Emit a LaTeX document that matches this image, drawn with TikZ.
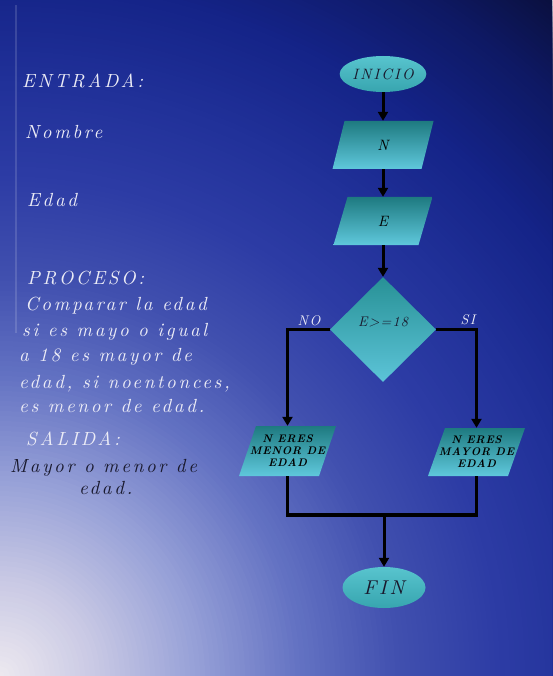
\documentclass[tikz,border=0pt]{standalone}
\usepackage{fontspec}
\setmainfont{lmroman10}[Extension=.otf, UprightFont=*-regular, ItalicFont=*-italic, BoldFont=*-bold, BoldItalicFont=*-bolditalic]
\usetikzlibrary{shapes.geometric,arrows.meta}
\definecolor{bg0}{RGB}{238,234,240}
\definecolor{bg1}{RGB}{200,200,228}
\definecolor{bg2}{RGB}{150,160,215}
\definecolor{bg3}{RGB}{100,115,195}
\definecolor{bg4}{RGB}{65,80,175}
\definecolor{bg5}{RGB}{45,60,165}
\definecolor{bg6}{RGB}{32,48,152}
\definecolor{bg7}{RGB}{20,35,135}
\definecolor{bg8}{RGB}{14,25,100}
\definecolor{bg9}{RGB}{10,15,60}
\definecolor{ellT}{RGB}{88,196,206}
\definecolor{ellB}{RGB}{55,165,175}
\definecolor{parT}{RGB}{30,122,128}
\definecolor{parB}{RGB}{95,200,220}
\definecolor{diaT}{RGB}{40,145,150}
\definecolor{diaB}{RGB}{92,196,216}
\definecolor{txtW}{RGB}{236,236,246}
\definecolor{txtD}{RGB}{25,25,45}
\tikzset{
  paraslant/.store in=\paraslantval, paraslant=12,
  arr/.style={line width=3pt, black, -{Triangle[width=10pt,length=9pt]}},
  joinline/.style={line width=3.5pt, black},
  terminal/.style={ellipse, draw=none, top color=ellT, bottom color=ellB, inner sep=0pt,
    text=txtD, font=\fontsize{15}{15}\selectfont\itshape\addfontfeatures{LetterSpace=14}},
  iobox/.style={rectangle, draw=none, inner sep=0pt, text=black, align=center,
    path picture={\shade[top color=parT, bottom color=parB]
      ([xshift=\paraslantval pt]path picture bounding box.north west) --
      (path picture bounding box.north east) --
      ([xshift=-\paraslantval pt]path picture bounding box.south east) --
      (path picture bounding box.south west) -- cycle;}},
  decision/.style={diamond, draw=none, top color=diaT, bottom color=diaB, inner sep=0pt,
    minimum width=106pt, minimum height=105pt},
  side/.style={anchor=base west, inner sep=0pt, text=txtW,
    font=\fontsize{19}{19}\selectfont\itshape\addfontfeatures{LetterSpace=14}},
  branch/.style={inner sep=0pt, text=txtW, font=\fontsize{14}{14}\selectfont\itshape\addfontfeatures{LetterSpace=10}},
  smalltxt/.style={font=\fontsize{11}{12}\selectfont\bfseries\itshape\addfontfeatures{LetterSpace=6}}
}
\begin{document}
\begin{tikzpicture}[x=1pt,y=-1pt]
\useasboundingbox (0,0) rectangle (552,676);
\begin{scope}
  \clip (0,0) rectangle (552,676);
  \fill[bg9] (0,0) rectangle (552,676);
  \foreach \ca/\cb/\ra/\rb in {bg8/bg9/800/880, bg7/bg8/700/800, bg6/bg7/600/700, bg5/bg6/500/600, bg4/bg5/400/500, bg3/bg4/300/400, bg2/bg3/200/300, bg1/bg2/100/200, bg0/bg1/0/100}{
    \foreach \k in {20,19,...,1}{
      \pgfmathsetmacro\rr{\ra+(\rb-\ra)*\k/20}
      \pgfmathtruncatemacro\pp{\k*5}
      \fill[fill=\cb!\pp!\ca] (0,676) circle (\rr pt);
    }
  }
\end{scope}
\draw[line width=1.5pt, color=white, opacity=0.14] (16,5) -- (16,333);

% left text
\node[side] (t1) at (22,88) {ENTRADA:};
\node[side] (t2) at (25,139) {Nombre};
\node[side] (t3) at (27,207) {Edad};
\node[side] (t4) at (27,284) {PROCESO:};
\node[side] (t5) at (25,310) {Comparar la edad};
\node[side] (t6) at (22,336) {si es mayo o igual};
\node[side] (t7) at (19,361) {a 18 es mayor de};
\node[side] (t8) at (19,388) {edad, si noentonces,};
\node[side] (t9) at (19,412) {es menor de edad.};
\node[side] (t10) at (26,445) {SALIDA:};
\node[side, text=txtD] (t11) at (10,472) {Mayor o menor de};
\node[side, text=txtD] (t12) at (79,494) {edad.};

% flowchart
\node[terminal, minimum width=84pt, minimum height=36pt] (inicio) at (383,74) {INICIO};
\node[iobox, paraslant=12, minimum width=101pt, minimum height=48pt,
  font=\fontsize{15}{15}\selectfont\itshape] (n) at (383,145) {N};
\node[iobox, paraslant=14, minimum width=99pt, minimum height=48pt,
  font=\fontsize{15}{15}\selectfont\itshape] (e) at (383,221) {E};
\node[decision, label={[font=\fontsize{14}{14}\selectfont\itshape\addfontfeatures{LetterSpace=8}, text=txtD, yshift=7pt]center:E>=18}] (dia) at (383,329.5) {};
\node[iobox, paraslant=17, minimum width=97pt, minimum height=50pt, smalltxt] (menor) at (287.5,451) {N ERES\\MENOR DE\\EDAD};
\node[iobox, paraslant=17, minimum width=97pt, minimum height=48pt, smalltxt] (mayor) at (476.5,452) {N ERES\\MAYOR DE\\EDAD};
\node[terminal, minimum width=83pt, minimum height=41pt, font=\fontsize{20}{20}\selectfont\itshape\addfontfeatures{LetterSpace=14}] (fin) at (384,587.5) {FIN};
\coordinate (join) at (384,515);

\node[branch] (no) at (309,321) {NO};
\node[branch] (si) at (468,320) {SI};

\draw[arr] (inicio.south) -- (n.north);
\draw[arr] (n.south) -- (e.north);
\draw[arr] (e.south) -- (dia.north);
\draw[arr] (dia.west) -| (menor);
\draw[arr] (dia.east) -| (mayor);
\draw[joinline] (menor.south) |- (join) -| (mayor.south);
\draw[arr] (join) -- (fin.north);
\end{tikzpicture}
\end{document}
